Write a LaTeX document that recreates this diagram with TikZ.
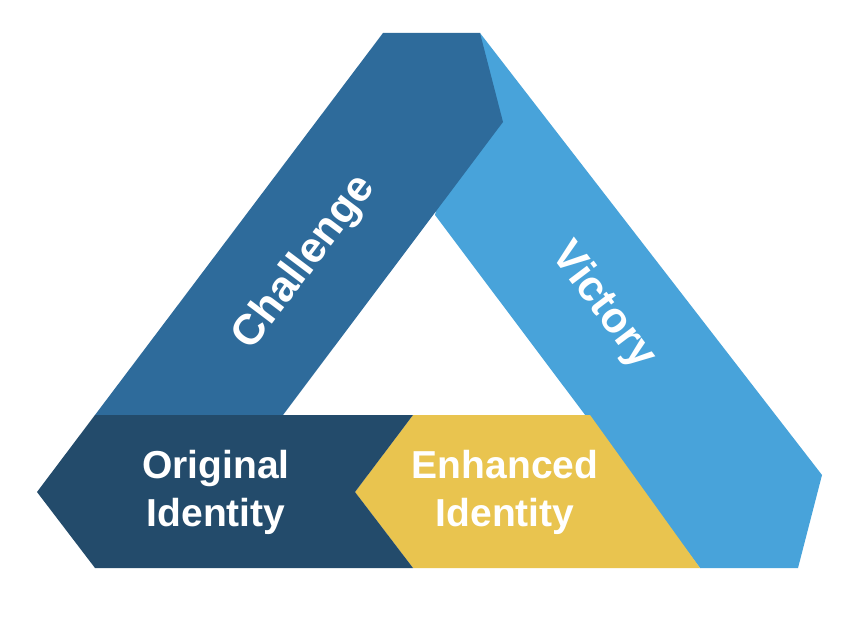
\documentclass[tikz,border=0pt]{standalone}
\usepackage{fontspec}
\setmainfont{Liberation Sans}
\begin{document}
\begin{tikzpicture}[x=1pt,y=-1pt,
  lbl/.style={text=white,font=\bfseries\fontsize{39}{48}\selectfont,align=center,inner sep=0pt},
  big/.style={lbl,font=\bfseries\fontsize{43}{48}\selectfont}]
\useasboundingbox[fill=white] (0,0) rectangle (860,626);
\definecolor{vic}{HTML}{48A3DA}
\definecolor{cha}{HTML}{2E6B9B}
\definecolor{ori}{HTML}{234B6B}
\definecolor{enh}{HTML}{E9C44F}
\fill[vic] (480,33) -- (822,475) -- (798,568) -- (700,568) -- (435,215) -- cycle;
\fill[cha] (383,33) -- (480,33) -- (503,122) -- (283,415) -- (95,415) -- cycle;
\fill[enh] (413,415) -- (590,415) -- (700,568) -- (413,568) -- (355,492) -- cycle;
\fill[ori] (95,415) -- (413,415) -- (355,492) -- (413,568) -- (95,568) -- (37,492) -- cycle;
\node[big,rotate=53] (c) at (305,263) {Challenge};
\node[big,rotate=-53] (v) at (603,306) {Victory};
\node[lbl] (o) at (216,492) {Original\\Identity};
\node[lbl] (e) at (505,492) {Enhanced\\Identity};
\end{tikzpicture}
\end{document}
